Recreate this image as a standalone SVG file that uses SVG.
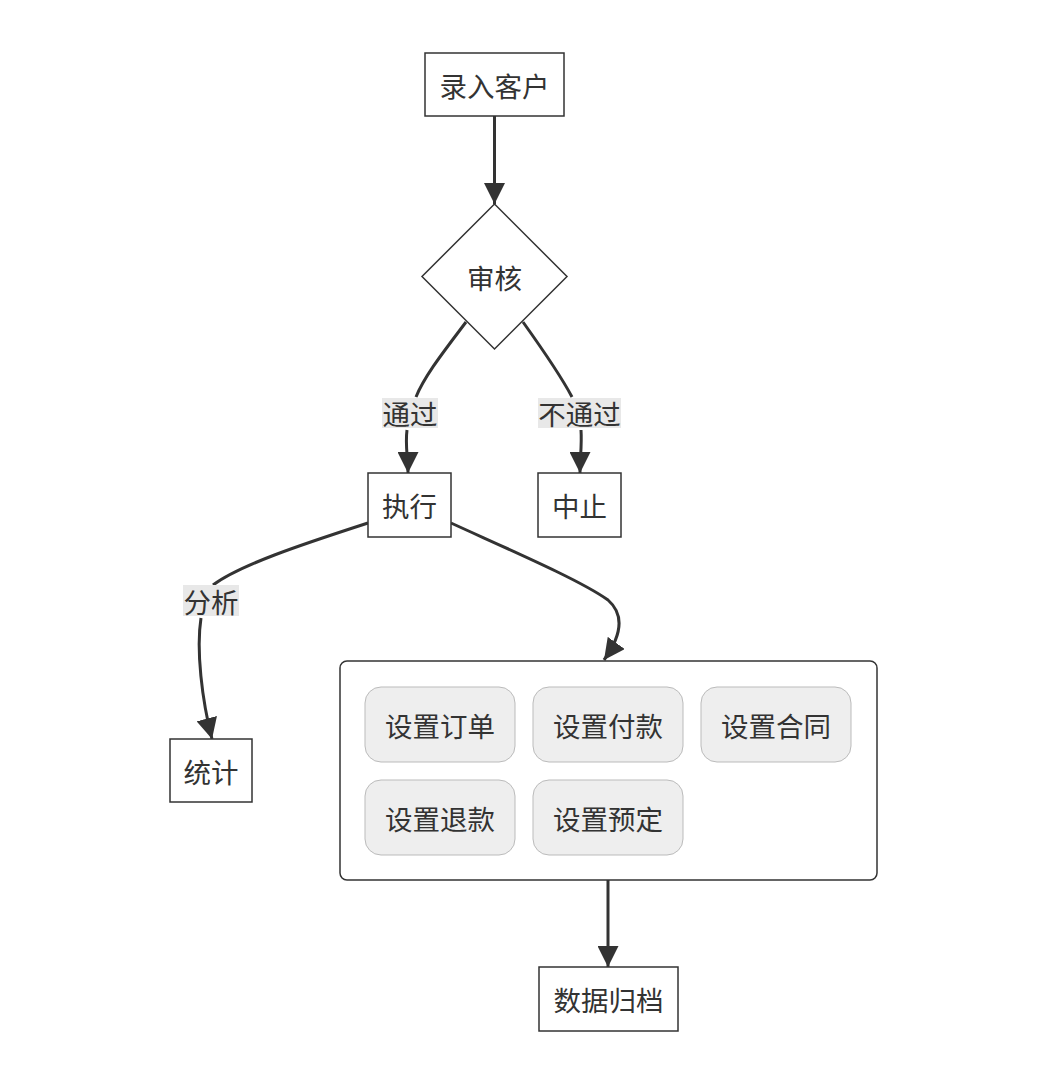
<svg xmlns="http://www.w3.org/2000/svg" width="1046" height="1088" viewBox="0 0 1046 1088">
<style>
text{font-family:"Noto Sans CJK SC","Liberation Sans",sans-serif;font-size:27.5px;fill:#333;text-anchor:middle;dominant-baseline:central}
.node{fill:#fff;stroke:#333;stroke-width:1.5}
.sub{fill:#eee;stroke:#bbb;stroke-width:1}
.edge{fill:none;stroke:#333;stroke-width:3}
.lbl{fill:#e8e8e8}
</style>
<defs>
<marker id="arr" viewBox="0 0 10 10" refX="10" refY="5" markerWidth="7" markerHeight="7" markerUnits="strokeWidth" orient="auto">
<path d="M0,0 L10,5 L0,10 z" fill="#333"/>
</marker>
</defs>
<rect width="1046" height="1088" fill="#fff"/>
<g id="connectors">
<path class="edge" d="M494.5,116 L494.5,204" marker-end="url(#arr)"/>
<path class="edge" d="M466,322 C445,350 425,375 416,397"/>
<path class="edge" d="M407,430 C405,445 408,458 408,473" marker-end="url(#arr)"/>
<path class="edge" d="M523,322 C543,350 562,378 572,397"/>
<path class="edge" d="M581,430 C582,445 580,458 580,473" marker-end="url(#arr)"/>
<path class="edge" d="M368,523 C300,545 240,565 213,585"/>
<path class="edge" d="M201,618 C196,650 202,700 212,739" marker-end="url(#arr)"/>
<path class="edge" d="M451,523 C510,550 580,580 608,600 C625,615 622,635 604,660" marker-end="url(#arr)"/>
<path class="edge" d="M608,880 L608,967" marker-end="url(#arr)"/>
</g>
<g id="lbl-pass"><rect class="lbl" x="382" y="398" width="56" height="30"/><text x="410" y="413">通过</text></g>
<g id="lbl-fail"><rect class="lbl" x="538" y="398" width="83" height="30"/><text x="579.5" y="413">不通过</text></g>
<g id="lbl-analyze"><rect class="lbl" x="183" y="585" width="56" height="31"/><text x="211" y="601">分析</text></g>
<g id="n-input"><rect class="node" x="425" y="53" width="139" height="63"/><text x="494.5" y="85">录入客户</text></g>
<g id="n-review"><polygon class="node" points="494.5,204 567,276.5 494.5,349 422,276.5"/><text x="494.5" y="277">审核</text></g>
<g id="n-exec"><rect class="node" x="368" y="473" width="83" height="64"/><text x="409.5" y="505">执行</text></g>
<g id="n-stop"><rect class="node" x="538" y="473" width="83" height="64"/><text x="579.5" y="505">中止</text></g>
<g id="n-stat"><rect class="node" x="170" y="739" width="82" height="63"/><text x="211" y="771">统计</text></g>
<g id="cluster"><rect class="node" x="340" y="661" width="537" height="219" rx="7"/></g>
<g id="n-order"><rect class="sub" x="365" y="687" width="150" height="75" rx="16"/><text x="440" y="725">设置订单</text></g>
<g id="n-pay"><rect class="sub" x="533" y="687" width="150" height="75" rx="16"/><text x="608" y="725">设置付款</text></g>
<g id="n-contract"><rect class="sub" x="701" y="687" width="150" height="75" rx="16"/><text x="776" y="725">设置合同</text></g>
<g id="n-refund"><rect class="sub" x="365" y="780" width="150" height="75" rx="16"/><text x="440" y="818">设置退款</text></g>
<g id="n-reserve"><rect class="sub" x="533" y="780" width="150" height="75" rx="16"/><text x="608" y="818">设置预定</text></g>
<g id="n-archive"><rect class="node" x="539" y="967" width="139" height="64"/><text x="608.5" y="999">数据归档</text></g>
</svg>
